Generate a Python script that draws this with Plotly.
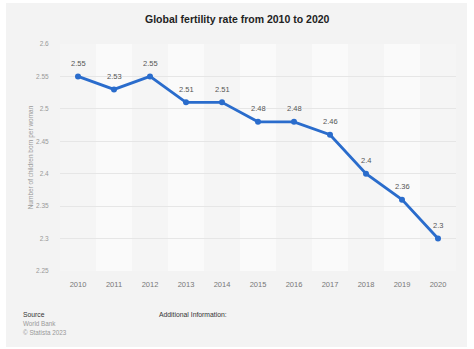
import plotly.graph_objects as go

years = ["2010", "2011", "2012", "2013", "2014", "2015", "2016", "2017", "2018", "2019", "2020"]
rates = [2.55, 2.53, 2.55, 2.51, 2.51, 2.48, 2.48, 2.46, 2.4, 2.36, 2.3]
labels = ["2.55", "2.53", "2.55", "2.51", "2.51", "2.48", "2.48", "2.46", "2.4", "2.36", "2.3"]
y_ticks = [2.25, 2.3, 2.35, 2.4, 2.45, 2.5, 2.55, 2.6]

W, H = 474, 349
L, R, T, B = 60, 18, 44, 78
pw = W - L - R
ph = H - T - B

def px_to_paper_x(px):
    return (px - L) / pw

def px_to_paper_y(py):
    return 1 - (py - T) / ph

fig = go.Figure()

fig.add_trace(go.Scatter(
    x=years, y=rates, mode="lines+markers",
    line=dict(color="#2a6ccc", width=2.8),
    marker=dict(color="#2a6ccc", size=6),
    cliponaxis=False, hoverinfo="skip", showlegend=False,
))

shapes = []
shapes.append(dict(type="rect", xref="paper", yref="paper", layer="below",
                   x0=px_to_paper_x(6), x1=px_to_paper_x(467),
                   y0=px_to_paper_y(347), y1=px_to_paper_y(3),
                   fillcolor="#f3f3f3", line=dict(width=0)))
for i in range(len(years)):
    shapes.append(dict(type="rect", xref="x", yref="y", layer="below",
                       x0=i - 0.5, x1=i + 0.5, y0=y_ticks[0], y1=y_ticks[-1],
                       fillcolor="#fafafa" if i % 2 else "#f5f5f5", line=dict(width=0)))

font = "Liberation Sans, Arial, sans-serif"
annotations = [
    dict(text=lab, x=i, y=v, xref="x", yref="y", showarrow=False, yshift=13,
         font=dict(family=font, size=7.5, color="#555555"), xanchor="center", yanchor="middle")
    for i, (v, lab) in enumerate(zip(rates, labels))
]
annotations += [
    dict(text="<b>Global fertility rate from 2010 to 2020</b>", xref="paper", yref="paper",
         x=px_to_paper_x(237), y=px_to_paper_y(19), showarrow=False,
         font=dict(family=font, size=10.5, color="#222222"), xanchor="center", yanchor="middle"),
    dict(text="Source", xref="paper", yref="paper", x=px_to_paper_x(21), y=px_to_paper_y(314),
         showarrow=False, font=dict(family=font, size=6.8, color="#333333"), xanchor="left", yanchor="middle"),
    dict(text="World Bank", xref="paper", yref="paper", x=px_to_paper_x(21), y=px_to_paper_y(323.5),
         showarrow=False, font=dict(family=font, size=6.3, color="#999999"), xanchor="left", yanchor="middle"),
    dict(text="© Statista 2023", xref="paper", yref="paper", x=px_to_paper_x(21), y=px_to_paper_y(332.5),
         showarrow=False, font=dict(family=font, size=6.3, color="#999999"), xanchor="left", yanchor="middle"),
    dict(text="Additional Information:", xref="paper", yref="paper", x=px_to_paper_x(157), y=px_to_paper_y(314),
         showarrow=False, font=dict(family=font, size=6.8, color="#333333"), xanchor="left", yanchor="middle"),
]

fig.update_layout(
    width=W, height=H,
    margin=dict(l=L, r=R, t=T, b=B),
    paper_bgcolor="#ffffff", plot_bgcolor="rgba(0,0,0,0)",
    shapes=shapes, annotations=annotations,
    xaxis=dict(type="category", range=[-0.5, len(years) - 0.5], showgrid=False, zeroline=False,
               showline=False, ticks="outside", ticklen=6, tickcolor="rgba(0,0,0,0)",
               tickfont=dict(family=font, size=7.5, color="#777777"), fixedrange=True),
    yaxis=dict(range=[y_ticks[0], y_ticks[-1]], tickvals=y_ticks, showgrid=True,
               gridcolor="#e6e6e6", gridwidth=1, zeroline=False, showline=False,
               ticks="outside", ticklen=9, tickcolor="rgba(0,0,0,0)",
               tickfont=dict(family=font, size=6.5, color="#999999"),
               title=dict(text="Number of children born per woman", standoff=1,
                          font=dict(family=font, size=6.5, color="#999999")), fixedrange=True),
)

fig.write_html("out.html")
